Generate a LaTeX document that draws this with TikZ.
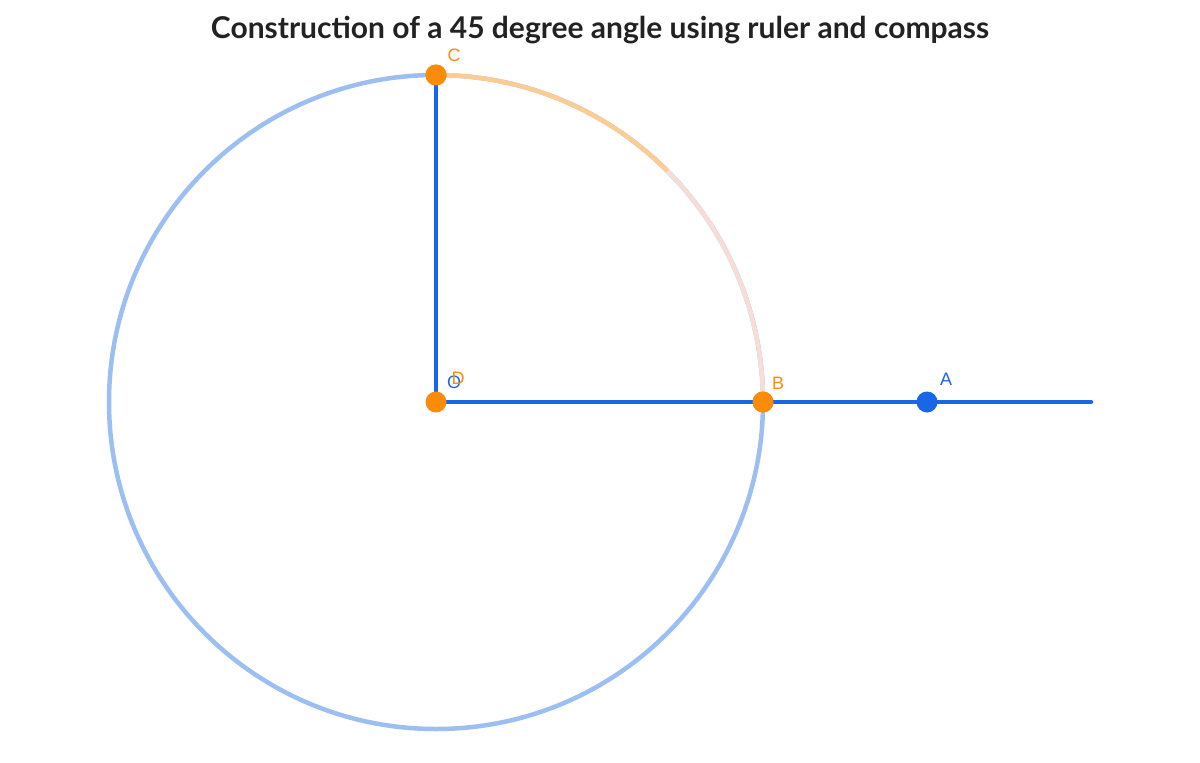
\documentclass[tikz,border=0pt]{standalone}
\usepackage{fontspec}
\setmainfont{Lato}
\newfontfamily\lbl{Liberation Sans}
\definecolor{ob}{HTML}{1967E8}
\definecolor{lb}{HTML}{9CBFF3}
\definecolor{or}{HTML}{FB8C0A}
\definecolor{lor}{HTML}{FCCD92}
\definecolor{pk}{HTML}{F8DDD6}
\definecolor{tt}{HTML}{222222}
\begin{document}
\begin{tikzpicture}[x=1pt,y=-1pt,
  pt/.style={circle,fill=#1,inner sep=0pt,minimum size=21pt},
  lab/.style={font=\lbl\fontsize{18}{18}\selectfont,text=#1,inner sep=0pt}]
\useasboundingbox[fill=white] (0,0) rectangle (1200,763);
\node[font=\fontsize{30}{30}\selectfont\bfseries,text=tt] (t) at (600,30) {Construction of a 45 degree angle using ruler and compass};
\coordinate (O) at (436,402);
\coordinate (E) at (1091,402);
\draw[lb,line width=4.5pt] (O) circle (327);
\draw[pk,line width=4.5pt] (763,402) arc[start angle=0,end angle=-45,radius=327];
\draw[lor,line width=4.5pt] (667.2,170.8) arc[start angle=-45,end angle=-90,radius=327];
\node[pt=or] (C) at (436,75) {};
\node[pt=or] (B) at (763,402) {};
\node[pt=ob] (A) at (927,402) {};
\draw[ob,line width=4.5pt,line cap=round] (C.center) -- (O) -- (E);
\node[pt=or] (Od) at (O) {};
\node[pt=or] (C2) at (436,75) {};
\node[pt=or] (B2) at (763,402) {};
\node[lab=or] (lC) at (454,55) {C};
\node[lab=or] (lB) at (778,383) {B};
\node[lab=ob] (lA) at (946,379) {A};
\node[lab=ob] (lO) at (454,382) {O};
\node[lab=or] (lD) at (458,378) {D};
\end{tikzpicture}
\end{document}
